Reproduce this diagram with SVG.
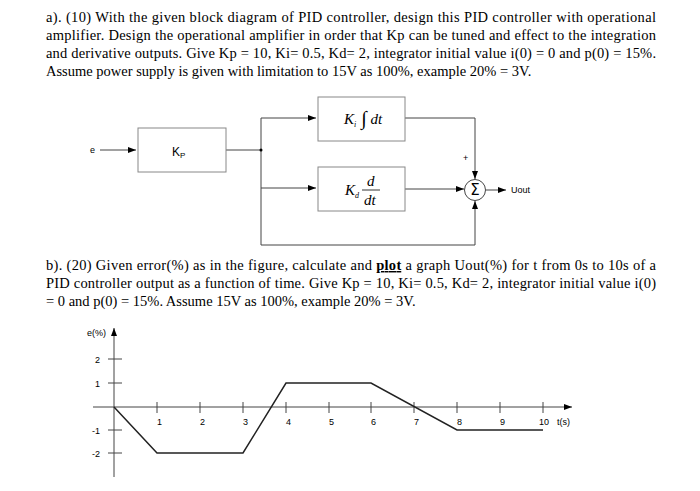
<svg xmlns="http://www.w3.org/2000/svg" width="700" height="491" viewBox="0 0 700 491">
<style>
.t{font-family:"Liberation Serif",serif;font-size:14.5px;fill:#000}
.s{font-family:"Liberation Sans",sans-serif;font-size:9px;fill:#000}
.b{fill:#fff;stroke:#888;stroke-width:1}
.l{fill:none;stroke:#444;stroke-width:1}
.m{font-family:"Liberation Serif",serif;font-style:italic;font-size:15px}
</style>
<defs><marker id="a" markerWidth="8" markerHeight="6" refX="8" refY="3" orient="auto" markerUnits="userSpaceOnUse"><path d="M0,0L8,3L0,6Z" fill="#000"/></marker></defs>
<rect width="700" height="491" fill="#fff"/>
<text class="t" x="46" y="22" textLength="610">a). (10) With the given block diagram of PID controller, design this PID controller with operational</text>
<text class="t" x="46" y="40" textLength="610">amplifier. Design the operational amplifier in order that Kp can be tuned and effect to the integration</text>
<text class="t" x="46" y="58" textLength="610">and derivative outputs. Give Kp = 10, Ki= 0.5, Kd= 2, integrator initial value i(0) = 0 and p(0) = 15%.</text>
<text class="t" x="46" y="76">Assume power supply is given with limitation to 15V as 100%, example 20% = 3V.</text>
<g id="connectors">
<path class="l" d="M100,150H136" marker-end="url(#a)"/>
<path class="l" d="M226,150H261M261,118V245"/>
<circle cx="261" cy="150" r="1.5" fill="#000"/>
<path class="l" d="M261,118H316" marker-end="url(#a)"/>
<path class="l" d="M261,188H316" marker-end="url(#a)"/>
<path class="l" d="M405,118H475V179" marker-end="url(#a)"/>
<path class="l" d="M405,189H464" marker-end="url(#a)"/>
<path class="l" d="M261,245H475V201" marker-end="url(#a)"/>
<path class="l" d="M486,190H506" marker-end="url(#a)"/>
</g>
<text class="s" x="90" y="153">e</text>
<g id="kp"><rect class="b" x="138" y="128" width="88" height="44"/><text x="172" y="156" font-family="Liberation Sans,sans-serif" font-size="12">K<tspan font-size="8" dy="2">P</tspan></text></g>
<g id="ki"><rect class="b" x="318" y="97" width="87" height="44"/><text class="m" x="344" y="124">K<tspan font-size="8" dy="3">i</tspan><tspan dy="-2" font-size="20"> ∫</tspan><tspan dy="-1"> dt</tspan></text></g>
<g id="kd"><rect class="b" x="318" y="167" width="87" height="44"/><text class="m" x="345" y="195">K<tspan font-size="8" dy="3">d</tspan></text><path d="M362,190H380" stroke="#000" stroke-width="0.8"/><text class="m" x="367" y="186">d</text><text class="m" x="364" y="205">dt</text></g>
<g id="sum"><circle cx="475" cy="190" r="10.5" fill="#fff" stroke="#444"/><text x="475" y="195" text-anchor="middle" font-family="DejaVu Sans,sans-serif" font-size="15">Σ</text><text class="s" x="463" y="161" font-size="6">+</text></g>
<text class="s" x="511" y="193" font-size="8">Uout</text>
<text class="t" x="46" y="270" textLength="610">b). (20) Given error(%) as in the figure, calculate and <tspan font-weight="bold" text-decoration="underline">plot</tspan> a graph Uout(%) for t from 0s to 10s of a</text>
<text class="t" x="46" y="288" textLength="610">PID controller output as a function of time. Give Kp = 10, Ki= 0.5, Kd= 2, integrator initial value i(0)</text>
<text class="t" x="46" y="306">= 0 and p(0) = 15%. Assume 15V as 100%, example 20% = 3V.</text>
<g id="graph">
<path class="l" d="M114,477V328" marker-end="url(#a)"/>
<path class="l" d="M93,407H572" marker-end="url(#a)"/>
<path class="l" d="M108,359H122M108,383H122M108,430H122M108,453H122"/>
<path class="l" d="M157,402V413M200,402V413M243,402V413M286,402V413M329,402V413M371,402V413M414,402V413M457,402V413M500,402V413M543,402V413"/>
<g class="s"><text x="87" y="336">e(%)</text>
<text x="95" y="363">2</text><text x="95" y="387">1</text><text x="92" y="434">-1</text><text x="92" y="457">-2</text>
<text x="157" y="425">1</text><text x="200" y="425">2</text><text x="243" y="425">3</text><text x="286" y="425">4</text><text x="329" y="425">5</text><text x="371" y="425">6</text><text x="414" y="425">7</text><text x="457" y="425">8</text><text x="500" y="425">9</text><text x="539" y="425">10</text><text x="557" y="425">t(s)</text></g>
<path d="M114,407L157,453H243L286,383H371L457,430H543" fill="none" stroke="#222" stroke-width="1.5"/>
</g>
</svg>
